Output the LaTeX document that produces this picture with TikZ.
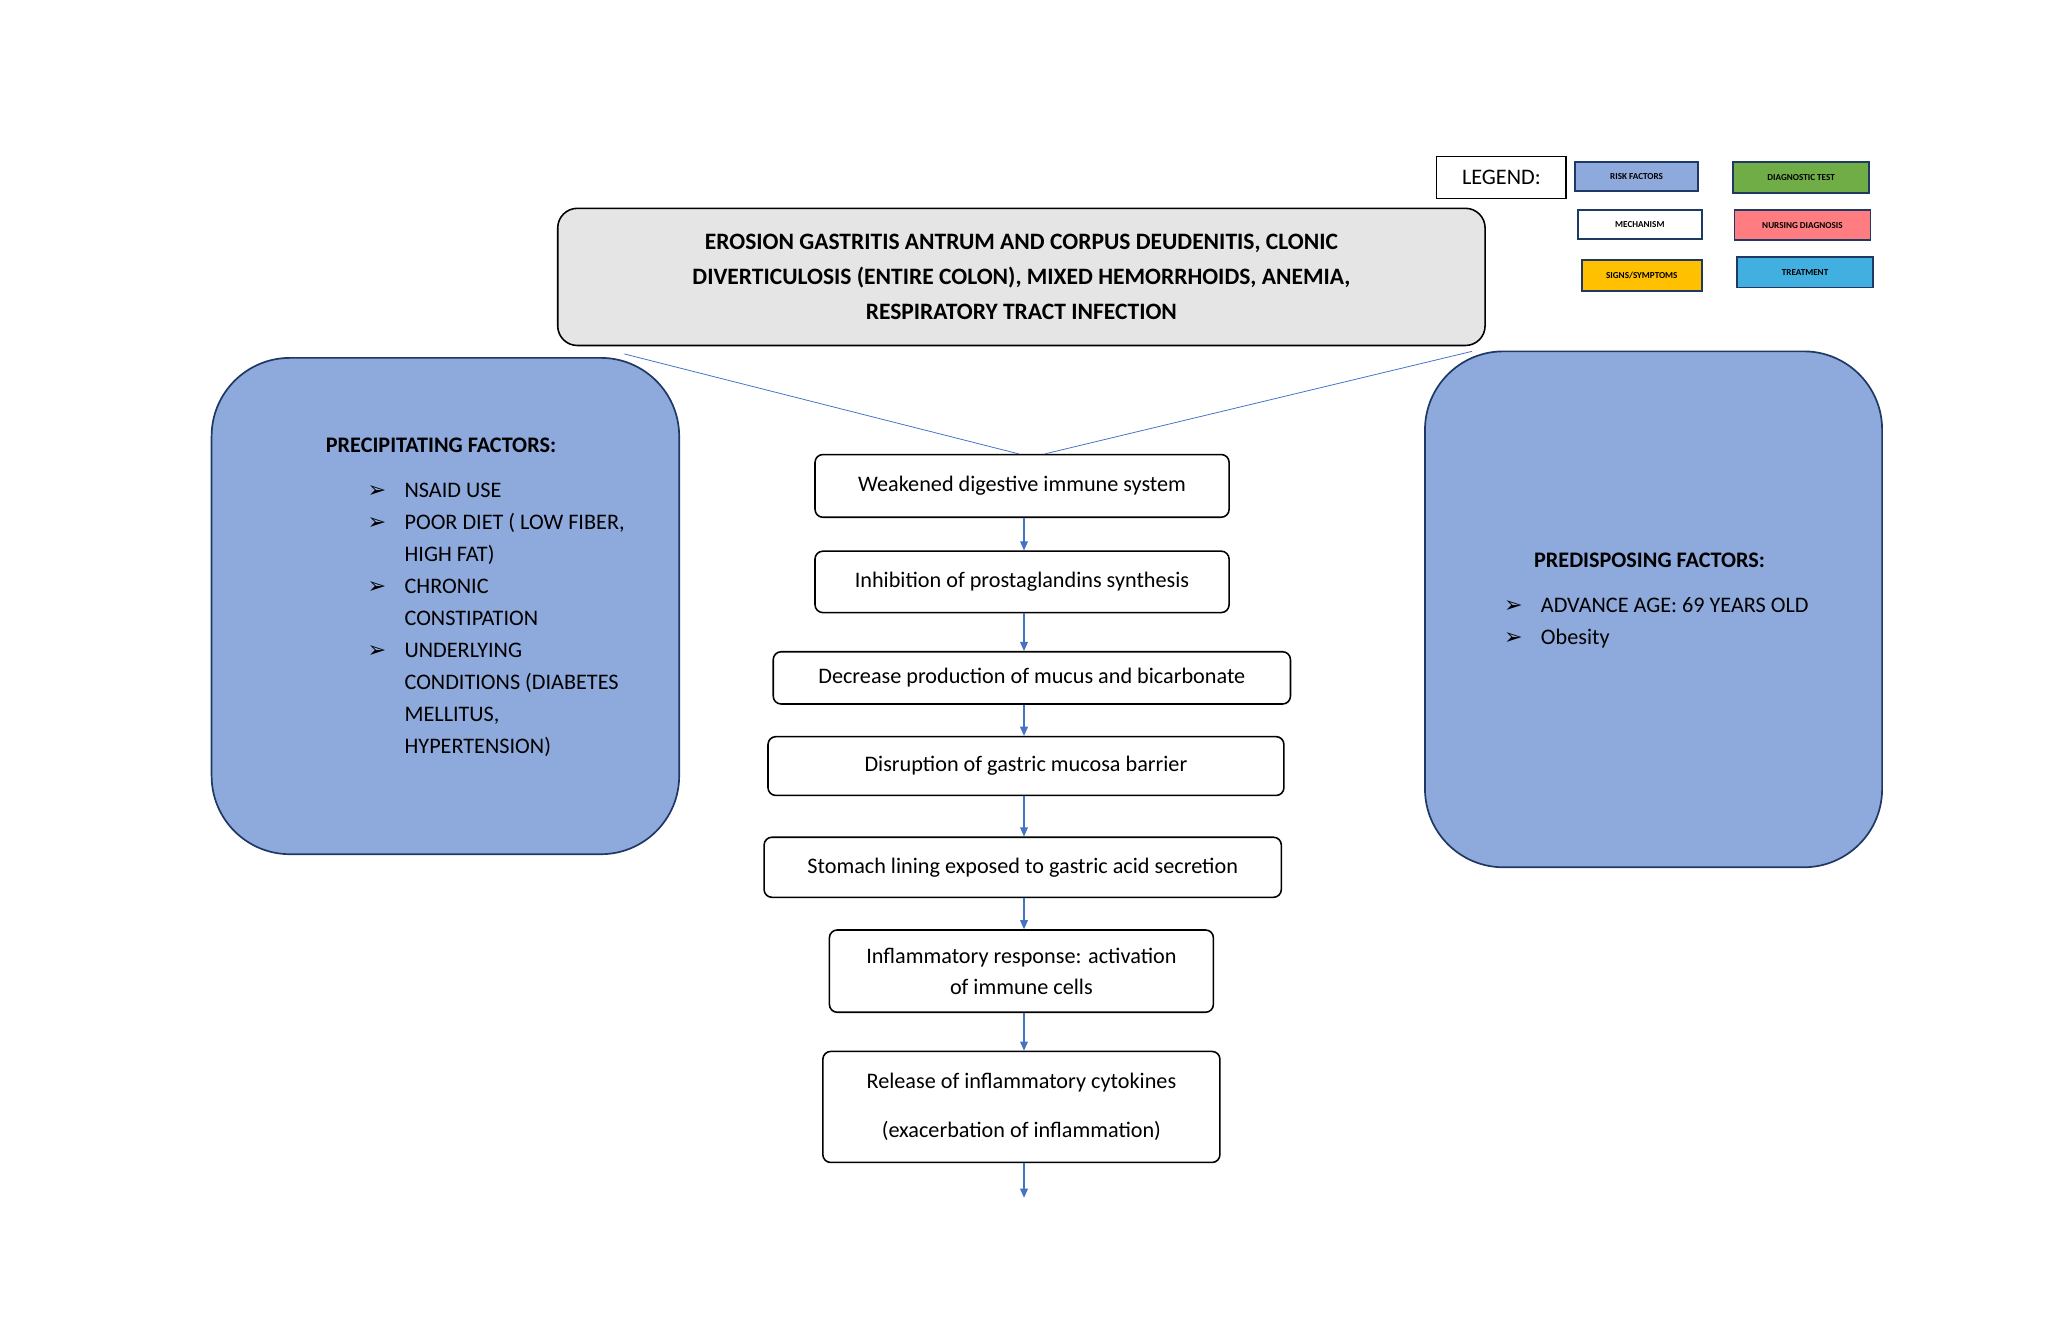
\documentclass[tikz,border=0pt]{standalone}
\usepackage{fontspec}
\setmainfont{Carlito}
\newfontfamily\symfont{DejaVu Sans}
\usetikzlibrary{arrows.meta}
\definecolor{riskblue}{HTML}{8EA9DB}
\definecolor{navy}{HTML}{1F3864}
\definecolor{flowblue}{HTML}{4472C4}
\newcommand{\bul}{{\symfont\char"27A2}}

\begin{document}
\begin{tikzpicture}[x=1pt,y=-1pt,
  mech/.style={draw=black,line width=1.2pt,rounded corners=6pt,fill=white,align=center,font=\fontsize{17}{24}\selectfont},
  risk/.style={draw=navy,line width=1.3pt,rounded corners=60pt,fill=riskblue},
  leg/.style={draw=navy,line width=1.3pt,font=\bfseries\fontsize{7}{8}\selectfont},
  flow/.style={flowblue,line width=0.8pt,-{Triangle[length=7pt,width=6pt]}}]

\useasboundingbox (0,0) rectangle (1568,1025);

\node[draw=black,line width=1.2pt,rounded corners=15pt,fill=black!10,minimum width=710pt,minimum height=105pt,align=center,font=\bfseries\fontsize{18}{26.5}\selectfont] (title) at (782,212)
  {EROSION GASTRITIS ANTRUM AND CORPUS DEUDENITIS, CLONIC\\DIVERTICULOSIS (ENTIRE COLON), MIXED HEMORRHOIDS, ANEMIA,\\RESPIRATORY TRACT INFECTION};

\node[risk,minimum width=358pt,minimum height=380pt] (precip) at (341,464) {};
\node[risk,minimum width=350pt,minimum height=395pt] (predisp) at (1266,466.5) {};

\node[anchor=west,font=\bfseries\fontsize{17}{20}\selectfont] (prehead) at (246,341) {PRECIPITATING FACTORS:};
\node[anchor=north west,align=left,font=\fontsize{17}{24.5}\selectfont] (prelist) at (278,366)
  {\bul\hspace{14pt}NSAID USE\\
   \bul\hspace{14pt}POOR DIET ( LOW FIBER,\\
   \hphantom{\bul}\hspace{14pt}HIGH FAT)\\
   \bul\hspace{14pt}CHRONIC\\
   \hphantom{\bul}\hspace{14pt}CONSTIPATION\\
   \bul\hspace{14pt}UNDERLYING\\
   \hphantom{\bul}\hspace{14pt}CONDITIONS (DIABETES\\
   \hphantom{\bul}\hspace{14pt}MELLITUS,\\
   \hphantom{\bul}\hspace{14pt}HYPERTENSION)};

\node[anchor=west,font=\bfseries\fontsize{17}{20}\selectfont] (predhead) at (1171,429) {PREDISPOSING FACTORS:};
\node[anchor=north west,align=left,font=\fontsize{17}{24.5}\selectfont] (predlist) at (1148,454)
  {\bul\hspace{14pt}ADVANCE AGE: 69 YEARS OLD\\
   \bul\hspace{14pt}Obesity};

% mechanism chain
\node[mech,minimum width=317pt,minimum height=48pt] (weak) at (782.5,372) {Weakened digestive immune system};
\node[mech,minimum width=317pt,minimum height=47pt] (inhib) at (782.5,445.5) {Inhibition of prostaglandins synthesis};
\node[mech,minimum width=396pt,minimum height=40pt] (mucus) at (790,519) {Decrease production of mucus and bicarbonate};
\node[mech,minimum width=395pt,minimum height=45pt] (barrier) at (785.5,586.5) {Disruption of gastric mucosa barrier};
\node[mech,minimum width=396pt,minimum height=46pt] (acid) at (783,664) {Stomach lining exposed to gastric acid secretion};
\node[mech,minimum width=294pt,minimum height=63pt] (inflam) at (782,743.5) {Inflammatory response: activation\\of immune cells};
\node[mech,minimum width=304pt,minimum height=85pt,font=\fontsize{17}{38}\selectfont] (cyto) at (782,847.5) {Release of inflammatory cytokines\\(exacerbation of inflammation)};
\coordinate (next) at (784,917);

\draw[flowblue,line width=0.6pt] (478,271) -- (780,347.5);
\draw[flowblue,line width=0.6pt] (1127,269) -- (800,347.5);

\draw[flow] (weak.south -| 784,0) -- (inhib.north -| 784,0);
\draw[flow] (inhib.south -| 784,0) -- (mucus.north -| 784,0);
\draw[flow] (mucus.south -| 784,0) -- (barrier.north -| 784,0);
\draw[flow] (barrier.south -| 784,0) -- (acid.north -| 784,0);
\draw[flow] (acid.south -| 784,0) -- (inflam.north -| 784,0);
\draw[flow] (inflam.south -| 784,0) -- (cyto.north -| 784,0);
\draw[flow] (cyto.south -| 784,0) -- (next);

% legend
\node[draw=black,line width=1pt,minimum width=99pt,minimum height=32pt,font=\fontsize{17}{20}\selectfont] (legend) at (1149.5,136) {LEGEND:};
\node[leg,fill=riskblue,minimum width=94pt,minimum height=22pt] (lrisk) at (1253,135) {RISK FACTORS};
\node[leg,fill=white,minimum width=95pt,minimum height=22pt] (lmech) at (1255.5,172) {MECHANISM};
\node[leg,fill={rgb,255:red,255;green,192;blue,0},minimum width=92pt,minimum height=24pt] (lsign) at (1257,211) {SIGNS/SYMPTOMS};
\node[leg,fill={rgb,255:red,112;green,173;blue,71},minimum width=104pt,minimum height=24pt] (ldiag) at (1379,136) {DIAGNOSTIC TEST};
\node[leg,fill={rgb,255:red,255;green,124;blue,128},minimum width=104pt,minimum height=23pt] (lnurse) at (1380,172.5) {NURSING DIAGNOSIS};
\node[leg,fill={rgb,255:red,65;green,176;blue,224},minimum width=104pt,minimum height=23pt] (ltreat) at (1382,208.5) {TREATMENT};
\end{tikzpicture}
\end{document}
